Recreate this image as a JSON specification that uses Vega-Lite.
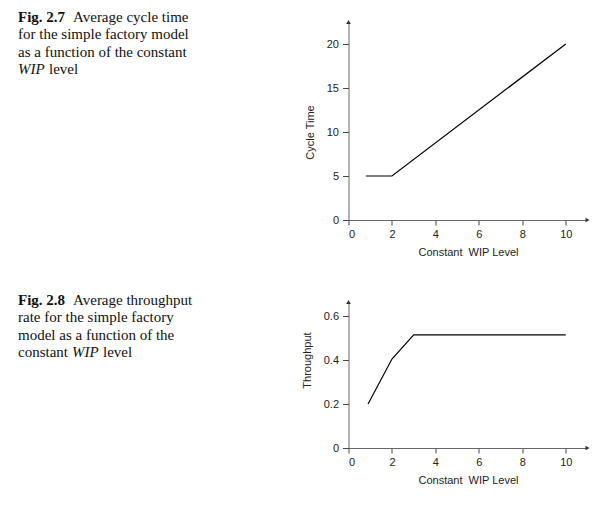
{
  "$schema": "https://vega.github.io/schema/vega-lite/v6.json",
  "background": "white",
  "padding": {"left": 18, "top": 10, "right": 5, "bottom": 5},
  "datasets": {
    "cap1": [
      {"line": 1, "kind": "fig", "text": "Fig. 2.7"},
      {"line": 1, "kind": "head", "text": "Average cycle time"},
      {"line": 2, "kind": "body", "text": "for the simple factory model"},
      {"line": 3, "kind": "body", "text": "as a function of the constant"},
      {"line": 4, "kind": "sym", "text": "WIP"},
      {"line": 4, "kind": "tail", "text": "level"}
    ],
    "cap2": [
      {"line": 1, "kind": "fig", "text": "Fig. 2.8"},
      {"line": 1, "kind": "head", "text": "Average throughput"},
      {"line": 2, "kind": "body", "text": "rate for the simple factory"},
      {"line": 3, "kind": "body", "text": "model as a function of the"},
      {"line": 4, "kind": "body", "text": "constant"},
      {"line": 4, "kind": "sym", "text": "WIP"},
      {"line": 4, "kind": "tail", "text": "level"}
    ],
    "cycle": [
      {"wip": 0.8, "ct": 5},
      {"wip": 2, "ct": 5},
      {"wip": 10, "ct": 20}
    ],
    "thru": [
      {"wip": 0.9, "th": 0.2},
      {"wip": 2, "th": 0.405},
      {"wip": 3, "th": 0.515},
      {"wip": 10, "th": 0.515}
    ]
  },
  "config": {
    "view": {"stroke": null},
    "axis": {
      "grid": false,
      "domainColor": "#666",
      "tickColor": "#444",
      "tickSize": 5,
      "labelFont": "Liberation Sans",
      "labelFontSize": 11,
      "labelColor": "#222",
      "labelPadding": 3,
      "titleFont": "Liberation Sans",
      "titleFontSize": 11,
      "titleFontWeight": "normal",
      "titleColor": "#222"
    },
    "axisY": {"tickSize": 6, "labelPadding": 4},
    "text": {"font": "Liberation Serif", "fontSize": 15, "align": "left", "baseline": "middle", "color": "#111"}
  },
  "bounds": "flush",
  "columns": 2,
  "spacing": {"row": 82, "column": 150.5},
  "concat": [
    {
      "width": 180,
      "height": 52,
      "data": {"name": "cap1"},
      "encoding": {
        "y": {"field": "line", "type": "ordinal", "axis": null, "scale": {"type": "point", "padding": 0}},
        "x": {"value": 0},
        "text": {"field": "text"}
      },
      "layer": [
        {"transform": [{"filter": "datum.kind == 'fig'"}], "mark": {"type": "text", "fontWeight": "bold", "dy": -5}},
        {"transform": [{"filter": "datum.kind == 'head'"}], "mark": {"type": "text", "dx": 55, "dy": -5}},
        {"transform": [{"filter": "datum.kind == 'body'"}], "mark": {"type": "text", "dy": -5}},
        {"transform": [{"filter": "datum.kind == 'sym'"}], "mark": {"type": "text", "fontStyle": "italic", "dy": -5}},
        {"transform": [{"filter": "datum.kind == 'tail'"}], "mark": {"type": "text", "dx": 31, "dy": -5}}
      ]
    },
    {
      "width": 239,
      "height": 198,
      "layer": [
        {
          "data": {"name": "cycle"},
          "mark": {"type": "line", "color": "#000", "strokeWidth": 1.2},
          "encoding": {
            "x": {
              "field": "wip", "type": "quantitative",
              "scale": {"domain": [0, 11], "nice": false},
              "axis": {"values": [0, 2, 4, 6, 8, 10], "title": "Constant\u00a0 WIP Level", "titlePadding": 7}
            },
            "y": {
              "field": "ct", "type": "quantitative",
              "scale": {"domain": [0, 22.5], "nice": false},
              "axis": {"values": [0, 5, 10, 15, 20], "title": "Cycle Time", "titlePadding": 11, "titleY": 110}
            }
          }
        },
        {
          "data": {"values": [{}]},
          "mark": {"type": "point", "shape": "triangle-up", "filled": true, "size": 22, "color": "#333", "opacity": 1},
          "encoding": {"x": {"datum": 0, "type": "quantitative"}, "y": {"datum": 22.5, "type": "quantitative"}}
        },
        {
          "data": {"values": [{}]},
          "mark": {"type": "point", "shape": "triangle-right", "filled": true, "size": 22, "color": "#333", "opacity": 1},
          "encoding": {"x": {"datum": 11, "type": "quantitative"}, "y": {"datum": 0, "type": "quantitative"}}
        }
      ]
    },
    {
      "width": 180,
      "height": 52,
      "data": {"name": "cap2"},
      "encoding": {
        "y": {"field": "line", "type": "ordinal", "axis": null, "scale": {"type": "point", "padding": 0}},
        "x": {"value": 0},
        "text": {"field": "text"}
      },
      "layer": [
        {"transform": [{"filter": "datum.kind == 'fig'"}], "mark": {"type": "text", "fontWeight": "bold", "dy": -2}},
        {"transform": [{"filter": "datum.kind == 'head'"}], "mark": {"type": "text", "dx": 55, "dy": -2}},
        {"transform": [{"filter": "datum.kind == 'body'"}], "mark": {"type": "text", "dy": -2}},
        {"transform": [{"filter": "datum.kind == 'sym'"}], "mark": {"type": "text", "fontStyle": "italic", "dx": 54, "dy": -2}},
        {"transform": [{"filter": "datum.kind == 'tail'"}], "mark": {"type": "text", "dx": 85, "dy": -2}}
      ]
    },
    {
      "width": 239,
      "height": 146,
      "layer": [
        {
          "data": {"name": "thru"},
          "mark": {"type": "line", "color": "#000", "strokeWidth": 1.2},
          "encoding": {
            "x": {
              "field": "wip", "type": "quantitative",
              "scale": {"domain": [0, 11], "nice": false},
              "axis": {"values": [0, 2, 4, 6, 8, 10], "title": "Constant\u00a0 WIP Level", "titlePadding": 7}
            },
            "y": {
              "field": "th", "type": "quantitative",
              "scale": {"domain": [0, 0.665], "nice": false},
              "axis": {"values": [0, 0.2, 0.4, 0.6], "format": "~g", "title": "Throughput", "titlePadding": 11, "titleY": 58}
            }
          }
        },
        {
          "data": {"values": [{}]},
          "mark": {"type": "point", "shape": "triangle-up", "filled": true, "size": 22, "color": "#333", "opacity": 1},
          "encoding": {"x": {"datum": 0, "type": "quantitative"}, "y": {"datum": 0.665, "type": "quantitative"}}
        },
        {
          "data": {"values": [{}]},
          "mark": {"type": "point", "shape": "triangle-right", "filled": true, "size": 22, "color": "#333", "opacity": 1},
          "encoding": {"x": {"datum": 11, "type": "quantitative"}, "y": {"datum": 0, "type": "quantitative"}}
        }
      ]
    }
  ]
}
